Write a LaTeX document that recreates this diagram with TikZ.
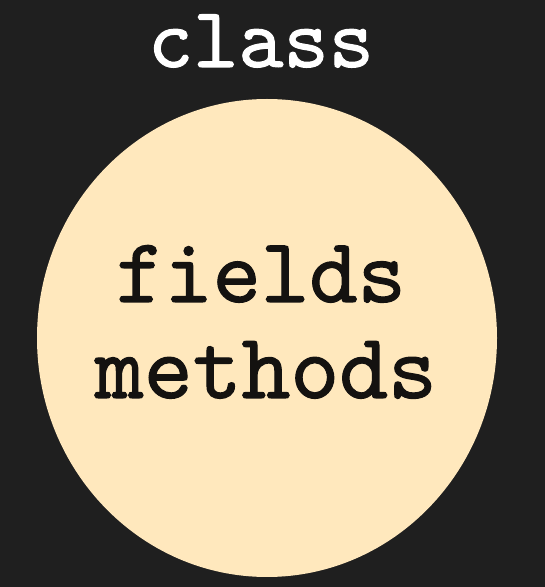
\documentclass[tikz,border=0pt]{standalone}
\usepackage{fontspec}
\newfontfamily\heavymono{lmmono10-regular.otf}[FakeBold=1.2]
\definecolor{bgdark}{HTML}{1F1F1F}
\definecolor{peach}{HTML}{FFE8BD}
\definecolor{ink}{HTML}{141210}
\tikzset{
  word/.style={font=\heavymono\fontsize{#1}{#1}\selectfont, anchor=base, inner sep=0pt},
}
\begin{document}
\begin{tikzpicture}[x=1pt,y=1pt]
      \fill[bgdark] (0,0) rectangle (545,587);
      \useasboundingbox (0,0) rectangle (545,587);
      \coordinate (O) at (267,249);
      \fill[peach] (O) ellipse [x radius=230, y radius=239];
      \node[word=86, white] (class) at (261,520) {class};
      \node[word=92, ink] (fields) at (261,285) {fields};
      \node[word=93, ink] (methods) at (266,189) {methods};
    \end{tikzpicture}
\end{document}
